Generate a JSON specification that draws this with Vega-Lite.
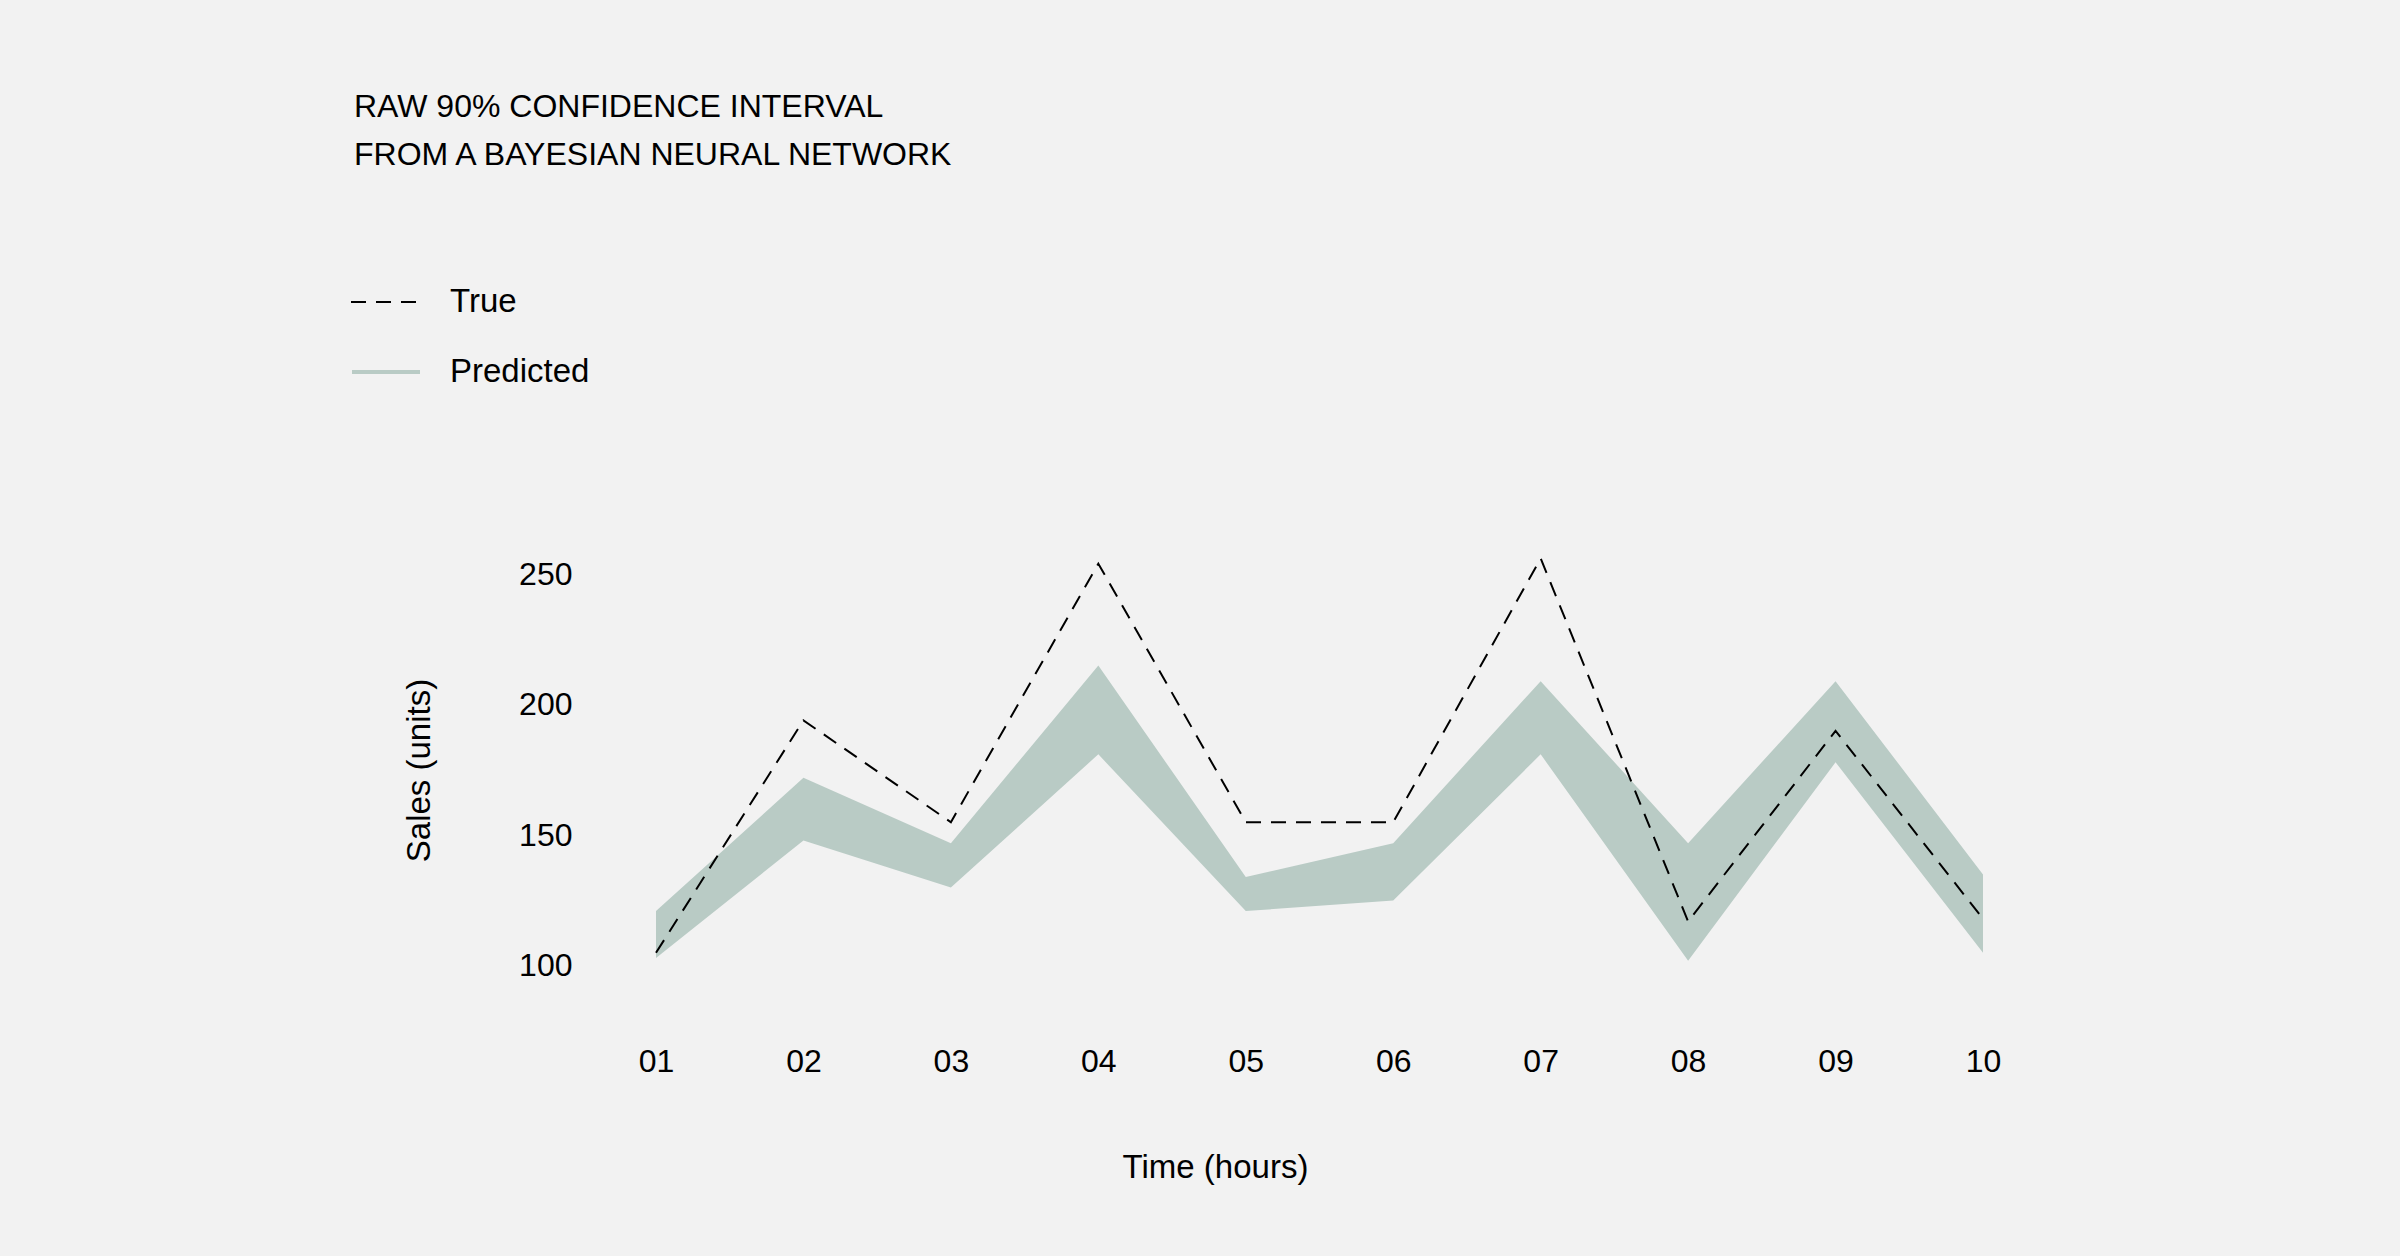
{
  "$schema": "https://vega.github.io/schema/vega-lite/v6.json",
  "autosize": {"type": "none"},
  "width": 1327,
  "height": 444,
  "padding": {"left": 656, "top": 548, "right": 417, "bottom": 264},
  "background": "#f2f2f2",
  "config": {
    "view": {"stroke": null},
    "font": "Liberation Sans",
    "legend": {
      "orient": "none",
      "direction": "vertical",
      "symbolType": "stroke",
      "symbolSize": 4624,
      "labelFontSize": 33,
      "labelColor": "#000000",
      "labelOffset": 30,
      "rowPadding": 0,
      "padding": 0
    }
  },
  "title": {
    "text": ["RAW 90% CONFIDENCE INTERVAL", "FROM A BAYESIAN NEURAL NETWORK"],
    "anchor": "start",
    "frame": "group",
    "orient": "top",
    "fontSize": 32,
    "fontWeight": "normal",
    "lineHeight": 48,
    "color": "#000000",
    "font": "Liberation Sans",
    "dx": -302,
    "offset": 95
  },
  "data": {
    "values": [
      {"hour": "01", "true": 105, "lower": 103, "upper": 121},
      {"hour": "02", "true": 194, "lower": 148, "upper": 172},
      {"hour": "03", "true": 155, "lower": 130, "upper": 147},
      {"hour": "04", "true": 254, "lower": 181, "upper": 215},
      {"hour": "05", "true": 155, "lower": 121, "upper": 134},
      {"hour": "06", "true": 155, "lower": 125, "upper": 147},
      {"hour": "07", "true": 256, "lower": 181, "upper": 209},
      {"hour": "08", "true": 117, "lower": 102, "upper": 147},
      {"hour": "09", "true": 190, "lower": 178, "upper": 209},
      {"hour": "10", "true": 118, "lower": 105, "upper": 135}
    ]
  },
  "encoding": {
    "x": {
      "field": "hour",
      "type": "ordinal",
      "scale": {"type": "point", "padding": 0},
      "axis": {
        "title": "Time (hours)",
        "labelAngle": 0,
        "labelFontSize": 32,
        "labelColor": "#000000",
        "labelPadding": 54,
        "ticks": false,
        "domain": false,
        "grid": false,
        "titleFontSize": 33,
        "titleFontWeight": "normal",
        "titleColor": "#000000",
        "titleX": 559,
        "titleY": 175,
        "titleBaseline": "middle",
        "titleAlign": "center"
      }
    }
  },
  "layer": [
    {
      "mark": {"type": "area", "opacity": 1},
      "encoding": {
        "y": {
          "field": "lower",
          "type": "quantitative",
          "scale": {"domain": [90, 260], "nice": false, "zero": false},
          "axis": {
            "title": "Sales (units)",
            "values": [100, 150, 200, 250],
            "labelFontSize": 32,
            "labelColor": "#000000",
            "labelPadding": 84,
            "ticks": false,
            "domain": false,
            "grid": false,
            "titleFontSize": 33,
            "titleFontWeight": "normal",
            "titleColor": "#000000",
            "titleX": -237,
            "titleY": 222,
            "titleBaseline": "middle",
            "titleAlign": "center",
            "titleAngle": -90
          }
        },
        "y2": {"field": "upper"},
        "fill": {
          "datum": "Predicted",
          "type": "nominal",
          "scale": {"domain": ["Predicted"], "range": ["#b9cbc5"]},
          "legend": {
            "title": null,
            "legendX": -306,
            "legendY": -212,
            "labelOffset": 28,
            "symbolStrokeColor": "#b9cbc5",
            "symbolStrokeWidth": 4
          }
        }
      }
    },
    {
      "mark": {"type": "line", "strokeDash": [15, 10], "strokeWidth": 2},
      "encoding": {
        "y": {"field": "true", "type": "quantitative"},
        "stroke": {
          "datum": "True",
          "type": "nominal",
          "scale": {"domain": ["True"], "range": ["#000000"]},
          "legend": {
            "title": null,
            "legendX": -306,
            "legendY": -281,
            "symbolDash": [15, 10],
            "symbolStrokeWidth": 2
          }
        }
      }
    }
  ]
}
